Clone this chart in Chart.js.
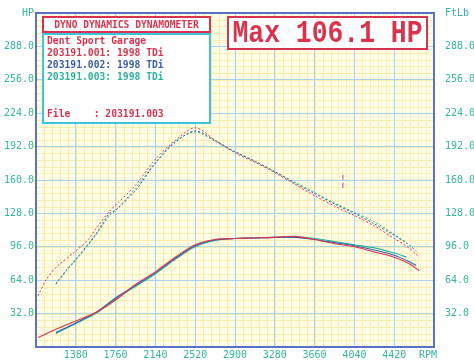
<!DOCTYPE html>
<html>
<head>
<meta charset="utf-8">
<script src="https://cdn.jsdelivr.net/npm/chart.js@4.4.1/dist/chart.umd.min.js"></script>
<style>
  html, body { margin: 0; padding: 0; background: #ffffff; }
  #wrap { width: 474px; height: 364px; position: relative; }
</style>
</head>
<body>
<div id="wrap"><canvas id="dynoChart" width="474" height="364"></canvas></div>
<script>
// --- dados ---
// eixos
const rpmTicks = [1000, 1380, 1760, 2140, 2520, 2900, 3280, 3660, 4040, 4420, 4800];
const rpmLabels = ['', '1380', '1760', '2140', '2520', '2900', '3280', '3660', '4040', '4420', 'RPM  '];
const valueTicks = [0, 32, 64, 96, 128, 160, 192, 224, 256, 288, 320];
const hpLabels = ['', '32.0', '64.0', '96.0', '128.0', '160.0', '192.0', '224.0', '256.0', '288.0', 'HP'];
const ftlbLabels = ['', '32.0', '64.0', '96.0', '128.0', '160.0', '192.0', '224.0', '256.0', '288.0', 'FtLb'];

// run 203191.001 (vermelho)
const powerRpm1 = [1020, 1190, 1380, 1570, 1760, 1950, 2140, 2330, 2520, 2710, 2900, 3090, 3280, 3470, 3660, 3850, 4040, 4230, 4420, 4560, 4660];
const powerHp1 = [9, 17, 25, 33, 45, 60, 72, 86, 98, 103, 104, 104.5, 105, 106, 103, 99, 96, 91, 86, 80, 73];
const torqueRpm1 = [1020, 1100, 1200, 1380, 1500, 1570, 1700, 1760, 1950, 2140, 2330, 2520, 2710, 2900, 3090, 3280, 3470, 3660, 3850, 4040, 4230, 4420, 4560, 4660];
const torqueFt1 = [49, 65, 77, 92, 103, 113, 130, 136, 155, 180, 198, 210, 198, 186, 177, 167, 156, 145, 135, 126, 116, 104, 95, 86];

// run 203191.002 (azul)
const powerRpm2 = [1190, 1380, 1570, 1760, 1950, 2140, 2330, 2520, 2710, 2900, 3090, 3280, 3470, 3660, 3850, 4040, 4230, 4420, 4560, 4630];
const powerHp2 = [14, 23, 33, 47, 59, 71, 85, 97, 102.5, 104, 104.5, 105, 105, 103, 100, 97, 93, 88, 82, 78];
const torqueRpm2 = [1190, 1300, 1380, 1570, 1700, 1760, 1950, 2140, 2330, 2520, 2710, 2900, 3090, 3280, 3470, 3660, 3850, 4040, 4230, 4420, 4560, 4630];
const torqueFt2 = [61, 75, 84, 108, 128, 131, 150, 176, 196, 207, 198, 187, 178, 168, 157, 147, 137, 128, 118, 107, 98, 92];

// run 203191.003 (verde)
const powerRpm3 = [1190, 1380, 1570, 1760, 1950, 2140, 2330, 2520, 2710, 2900, 3090, 3280, 3470, 3660, 3850, 4040, 4230, 4420, 4540];
const powerHp3 = [13, 22.5, 32, 46, 58, 70, 84, 96, 102, 104, 104.5, 105, 105.5, 104, 101, 98, 95, 90, 86];
const torqueRpm3 = [1190, 1300, 1380, 1570, 1700, 1760, 1950, 2140, 2330, 2520, 2710, 2900, 3090, 3280, 3470, 3660, 3850, 4040, 4230, 4420, 4540];
const torqueFt3 = [60, 74, 83, 107, 126, 131, 152, 177, 197, 206, 197, 187, 178, 168, 158, 148, 138, 129, 120, 108, 100];

// cursor pequeno (marca magenta)
const cursorRpm = [3930, 3930];
const cursorVal = [165, 150];

document.addEventListener('DOMContentLoaded', function () {

    const RED = '#d8344f';
    const BLUE = '#3b5ca8';
    const GREEN = '#2db39b';
    const TEAL = '#33b59f';
    const MONO = '"DejaVu Sans Mono", "Liberation Mono", monospace';

    function toPoints(xs, ys) {
        return xs.map((x, i) => ({ x: x, y: ys[i] }));
    }

    function lineSet(label, xs, ys, color, axis, dotted) {
        return {
            label: label,
            data: toPoints(xs, ys),
            borderColor: color,
            borderWidth: dotted ? 1 : 1.1,
            borderDash: dotted ? [2, 2] : [],
            pointRadius: 0,
            tension: 0.3,
            yAxisID: axis
        };
    }

    // --- plugin: fundo, grade menor, moldura e caixas de texto ---
    const dynoPaper = {
        id: 'dynoPaper',
        beforeDraw(chart) {
            const { ctx, chartArea: a, scales } = chart;
            ctx.save();
            ctx.fillStyle = '#fffce6';
            ctx.fillRect(a.left, a.top, a.right - a.left, a.bottom - a.top);
            ctx.strokeStyle = '#f7eeae';
            ctx.lineWidth = 1;
            ctx.beginPath();
            for (let v = 1000; v <= 4800; v += 76) {
                const px = Math.round(scales.x.getPixelForValue(v)) + 0.5;
                ctx.moveTo(px, a.top); ctx.lineTo(px, a.bottom);
            }
            for (let v = 0; v <= 320; v += 6.4) {
                const py = Math.round(scales.y.getPixelForValue(v)) + 0.5;
                ctx.moveTo(a.left, py); ctx.lineTo(a.right, py);
            }
            ctx.stroke();
            ctx.restore();
        },
        afterDraw(chart) {
            const { ctx, chartArea: a } = chart;
            ctx.save();
            // moldura azul
            ctx.strokeStyle = '#5a72c4';
            ctx.lineWidth = 2;
            ctx.strokeRect(a.left, a.top, a.right - a.left, a.bottom - a.top);

            // caixa titulo
            ctx.fillStyle = '#ffffff';
            ctx.fillRect(43, 17, 167, 15);
            ctx.strokeStyle = RED;
            ctx.strokeRect(43, 17, 167, 15);
            ctx.fillStyle = RED;
            ctx.font = 'bold 9.6px ' + MONO;
            ctx.textBaseline = 'middle';
            ctx.textAlign = 'center';
            ctx.fillText('DYNO DYNAMICS DYNAMOMETER', 126.5, 25);

            // caixa de informacoes
            ctx.fillStyle = '#ffffff';
            ctx.fillRect(43, 34, 167, 89);
            ctx.strokeStyle = '#3ec3dd';
            ctx.strokeRect(43, 34, 167, 89);
            ctx.textAlign = 'left';
            ctx.font = 'bold 9.7px ' + MONO;
            ctx.fillStyle = RED;
            ctx.fillText('Dent Sport Garage', 47, 41);
            ctx.fillText('203191.001: 1998 TDi', 47, 53);
            ctx.fillStyle = BLUE;
            ctx.fillText('203191.002: 1998 TDi', 47, 65);
            ctx.fillStyle = GREEN;
            ctx.fillText('203191.003: 1998 TDi', 47, 77);
            ctx.fillStyle = RED;
            ctx.fillText('File    : 203191.003', 47, 114);

            // caixa Max
            ctx.fillStyle = '#ffffff';
            ctx.fillRect(228, 17, 199, 32);
            ctx.strokeStyle = RED;
            ctx.strokeRect(228, 17, 199, 32);
            ctx.fillStyle = RED;
            ctx.font = 'bold 31px "Liberation Mono", ' + MONO;
            const txt = 'Max 106.1 HP';
            const w = ctx.measureText(txt).width;
            ctx.translate(327.5, 34);
            ctx.scale(190 / w, 1);
            ctx.textAlign = 'center';
            ctx.fillText(txt, 0, 0);
            ctx.restore();
        }
    };

    const tickFont = { family: MONO, size: 10 };

    const ctx = document.getElementById('dynoChart').getContext('2d');
    new Chart(ctx, {
        type: 'line',
        data: {
            datasets: [
                lineSet('HP 001', powerRpm1, powerHp1, RED, 'y', false),
                lineSet('HP 002', powerRpm2, powerHp2, BLUE, 'y', false),
                lineSet('HP 003', powerRpm3, powerHp3, GREEN, 'y', false),
                lineSet('FtLb 001', torqueRpm1, torqueFt1, RED, 'y2', true),
                lineSet('FtLb 002', torqueRpm2, torqueFt2, BLUE, 'y2', true),
                lineSet('FtLb 003', torqueRpm3, torqueFt3, GREEN, 'y2', true),
                Object.assign(lineSet('cursor', cursorRpm, cursorVal, '#c0368a', 'y', true), { borderDash: [5, 3], tension: 0 })
            ]
        },
        options: {
            responsive: false,
            animation: false,
            layout: { padding: { top: 13 } },
            plugins: { legend: { display: false }, tooltip: { enabled: false } },
            scales: {
                x: {
                    type: 'linear', min: 1000, max: 4800,
                    afterBuildTicks: s => { s.ticks = rpmTicks.map(v => ({ value: v })); },
                    afterFit: s => { s.height = 17; },
                    ticks: {
                        color: TEAL, font: tickFont, padding: 2, maxRotation: 0, autoSkip: false,
                        callback: (v, i) => rpmLabels[i]
                    },
                    grid: { color: '#a9d3ee', drawTicks: false },
                    border: { display: false }
                },
                y: {
                    position: 'left', min: 0, max: 320,
                    afterBuildTicks: s => { s.ticks = valueTicks.map(v => ({ value: v })); },
                    afterFit: s => { s.width = 36; },
                    ticks: {
                        color: TEAL, font: tickFont, padding: 2, autoSkip: false,
                        callback: (v, i) => hpLabels[i]
                    },
                    grid: { color: '#a9d3ee', drawTicks: false },
                    border: { display: false }
                },
                y2: {
                    position: 'right', min: 0, max: 320,
                    afterBuildTicks: s => { s.ticks = valueTicks.map(v => ({ value: v })); },
                    afterFit: s => { s.width = 40; },
                    ticks: {
                        color: TEAL, font: tickFont, padding: 3, autoSkip: false,
                        callback: (v, i) => ftlbLabels[i]
                    },
                    grid: { display: false },
                    border: { display: false }
                }
            }
        },
        plugins: [dynoPaper]
    });
});
</script>
</body>
</html>
